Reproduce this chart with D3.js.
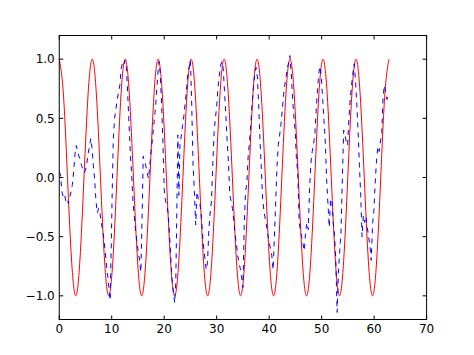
<!DOCTYPE html>
<html>
<head>
<meta charset="utf-8">
<script src="https://cdn.jsdelivr.net/npm/d3@7"></script>
<style>
html,body{margin:0;padding:0;background:#fff;}
svg{display:block;}
text{font-family:"DejaVu Sans",sans-serif;font-size:12px;fill:#000;}
</style>
</head>
<body>
<svg id="chart" width="474" height="355"></svg>
<script>
// ---- data ----
const xTicks = [0, 10, 20, 30, 40, 50, 60, 70];
const yTicks = [-1.0, -0.5, 0.0, 0.5, 1.0];
const yTickLabels = ["\u22121.0", "\u22120.5", "0.0", "0.5", "1.0"];

const redX = [0,0.785,1.571,2.356,3.142,3.927,4.712,5.498,6.283,7.069,7.854,8.639,9.425,10.21,10.996,11.781,
12.566,13.352,14.137,14.923,15.708,16.493,17.279,18.064,18.85,19.635,20.42,21.206,21.991,22.777,23.562,24.347,
25.133,25.918,26.704,27.489,28.274,29.06,29.845,30.631,31.416,32.201,32.987,33.772,34.558,35.343,36.128,36.914,
37.699,38.485,39.27,40.055,40.841,41.626,42.412,43.197,43.982,44.768,45.553,46.338,47.124,47.909,48.695,49.48,
50.265,51.051,51.836,52.622,53.407,54.192,54.978,55.763,56.549,57.334,58.119,58.905,59.69,60.476,61.261,62.046,62.832];
const redY = [1,0.707,0,-0.707,-1,-0.707,0,0.707,
1,0.707,0,-0.707,-1,-0.707,0,0.707,
1,0.707,0,-0.707,-1,-0.707,0,0.707,
1,0.707,0,-0.707,-1,-0.707,0,0.707,
1,0.707,0,-0.707,-1,-0.707,0,0.707,
1,0.707,0,-0.707,-1,-0.707,0,0.707,
1,0.707,0,-0.707,-1,-0.707,0,0.707,
1,0.707,0,-0.707,-1,-0.707,0,0.707,
1,0.707,0,-0.707,-1,-0.707,0,0.707,
1,0.707,0,-0.707,-1,-0.707,0,0.707,
1];

const blueX = [0.0,0.25,0.5,0.75,1.0,1.25,1.5,1.75,2.0,2.25,2.5,2.75,3.0,3.25,3.5,3.75,4.0,4.25,4.5,4.75,
5.0,5.25,5.5,5.75,6.0,6.25,6.5,6.75,7.0,7.25,7.5,7.75,8.0,8.25,8.5,8.75,9.0,9.25,9.5,9.7,
9.9,10.1,10.3,10.55,10.8,11.05,11.3,11.55,11.8,12.05,12.3,12.55,12.8,13.05,13.3,13.55,13.8,14.05,14.3,14.55,
14.8,15.05,15.3,15.55,15.8,16.0,16.25,16.5,16.75,17.0,17.25,17.5,17.75,18.0,18.25,18.5,18.75,19.0,19.25,19.5,
19.75,20.0,20.25,20.5,20.75,21.0,21.25,21.5,21.75,22.0,22.2,22.4,22.6,22.8,23.0,23.25,23.5,23.75,24.0,24.25,
24.5,24.75,25.0,25.25,25.5,25.75,26.0,26.25,26.5,26.75,27.0,27.25,27.5,27.75,28.0,28.25,28.5,28.75,29.0,29.25,
29.5,29.75,30.0,30.25,30.5,30.75,31.0,31.25,31.5,31.75,32.0,32.25,32.5,32.75,33.0,33.25,33.5,33.75,34.0,34.25,
34.5,34.75,35.0,35.25,35.5,35.75,36.0,36.25,36.5,36.75,37.0,37.25,37.5,37.75,38.0,38.25,38.5,38.75,39.0,39.25,
39.5,39.75,40.0,40.25,40.5,40.75,41.0,41.25,41.5,41.75,42.0,42.25,42.5,42.75,43.0,43.25,43.5,43.75,43.95,44.2,
44.45,44.7,44.95,45.2,45.45,45.7,45.95,46.2,46.45,46.7,46.95,47.2,47.45,47.7,47.95,48.2,48.45,48.7,48.95,49.2,
49.45,49.7,49.95,50.2,50.45,50.7,50.95,51.2,51.45,51.7,51.95,52.2,52.45,52.7,52.95,53.2,53.45,53.7,53.95,54.2,
54.45,54.7,54.95,55.2,55.45,55.7,55.95,56.2,56.45,56.7,56.95,57.2,57.45,57.7,57.95,58.2,58.45,58.7,58.95,59.2,
59.45,59.7,59.95,60.2,60.45,60.7,60.95,61.2,61.45,61.7,61.95,62.2,62.45,62.7];
const blueY = [0.05,0.02,-0.12,-0.16,-0.14,-0.2,-0.18,-0.22,-0.17,-0.12,-0.06,0.05,0.2,0.27,0.22,0.18,0.15,0.1,0.07,0.04,
0.06,0.12,0.2,0.26,0.33,0.25,0.1,-0.02,-0.2,-0.3,-0.26,-0.3,-0.38,-0.44,-0.52,-0.62,-0.74,-0.84,-0.95,-1.04,
-0.6,-0.1,0.33,0.5,0.58,0.66,0.72,0.78,0.92,0.97,0.95,0.99,0.93,0.7,0.45,0.2,0.02,-0.2,-0.33,-0.45,
-0.54,-0.63,-0.7,-0.8,-0.3,0.18,0.14,0.1,0.04,-0.01,0.1,0.22,0.32,0.44,0.55,0.68,0.86,0.98,0.88,0.62,
0.3,-0.1,-0.2,-0.24,-0.3,-0.47,-0.68,-0.86,-0.97,-1.06,-0.9,-0.3,0.36,-0.15,0.28,0.35,0.44,0.52,0.63,0.74,
0.88,0.93,0.99,0.6,0.1,-0.12,-0.4,-0.12,-0.18,-0.21,-0.28,-0.45,-0.58,-0.68,-0.78,-0.72,-0.45,-0.3,-0.2,0.1,
0.38,0.5,0.6,0.76,0.86,0.95,0.98,0.92,0.72,0.52,0.3,0.12,-0.15,-0.2,-0.26,-0.36,-0.48,-0.56,-0.66,-0.72,
-0.77,-0.84,-0.93,-0.4,-0.12,-0.05,0.18,0.3,0.45,0.62,0.76,0.87,0.93,0.85,0.62,0.32,0.08,-0.18,-0.28,-0.35,
-0.41,-0.48,-0.55,-0.6,-0.66,-0.78,-0.5,-0.2,0.1,0.28,0.36,0.45,0.57,0.7,0.79,0.86,0.93,0.98,1.03,0.88,
0.68,0.52,0.4,0.15,0.04,-0.36,-0.46,-0.5,-0.56,-0.62,-0.45,-0.38,-0.44,-0.1,0.12,0.22,0.28,0.36,0.56,0.74,
0.88,0.94,0.84,0.66,0.48,0.3,-0.02,-0.22,-0.42,-0.18,-0.2,-0.38,-0.48,-0.7,-1.14,-0.8,-0.62,-0.45,0.0,0.4,
0.36,0.3,0.27,0.5,0.66,0.78,0.88,0.96,0.82,0.62,0.38,0.1,-0.15,-0.5,-0.32,-0.38,-0.33,-0.42,-0.5,-0.58,
-0.7,-0.4,-0.28,-0.05,0.14,0.26,0.22,0.3,0.38,0.68,0.78,0.72,0.66,0.7];

// ---- layout ----
const W = 474, H = 355;
const L = 59.25, R = 426.6, T = 35.5, B = 319.5;
const svg = d3.select("#chart");

const x = d3.scaleLinear().domain([0, 70]).range([L, R]);
const y = d3.scaleLinear().domain([-1.2, 1.2]).range([B, T]);

svg.append("defs").append("clipPath").attr("id", "clip")
  .append("rect").attr("x", L).attr("y", T).attr("width", R - L).attr("height", B - T);

const g = svg.append("g").attr("clip-path", "url(#clip)");

const redPts = redX.map((v, i) => [v, redY[i]]);
const bluePts = blueX.map((v, i) => [v, blueY[i]]);

g.append("path")
  .attr("d", d3.line().x(d => x(d[0])).y(d => y(d[1])).curve(d3.curveNatural)(redPts))
  .attr("fill", "none").attr("stroke", "#ff0000").attr("stroke-width", 1);

g.append("path")
  .attr("d", d3.line().x(d => x(d[0])).y(d => y(d[1]))(bluePts))
  .attr("fill", "none").attr("stroke", "#0000ff").attr("stroke-width", 1)
  .attr("stroke-dasharray", "5,5");

// frame
svg.append("rect").attr("x", L).attr("y", T).attr("width", R - L).attr("height", B - T)
  .attr("fill", "none").attr("stroke", "#000").attr("stroke-width", 1);

const tl = 4;
// x ticks (inward, bottom and top)
xTicks.forEach(t => {
  const px = x(t);
  svg.append("line").attr("x1", px).attr("x2", px).attr("y1", B).attr("y2", B - tl).attr("stroke", "#000");
  svg.append("line").attr("x1", px).attr("x2", px).attr("y1", T).attr("y2", T + tl).attr("stroke", "#000");
  svg.append("text").attr("x", px).attr("y", B + 4).attr("dy", "0.76em")
    .attr("text-anchor", "middle").text(String(t));
});
// y ticks (inward, left and right)
yTicks.forEach((t, i) => {
  const py = y(t);
  svg.append("line").attr("x1", L).attr("x2", L + tl).attr("y1", py).attr("y2", py).attr("stroke", "#000");
  svg.append("line").attr("x1", R).attr("x2", R - tl).attr("y1", py).attr("y2", py).attr("stroke", "#000");
  svg.append("text").attr("x", L - 4.5).attr("y", py).attr("dy", "0.36em")
    .attr("text-anchor", "end").text(yTickLabels[i]);
});
</script>
</body>
</html>
